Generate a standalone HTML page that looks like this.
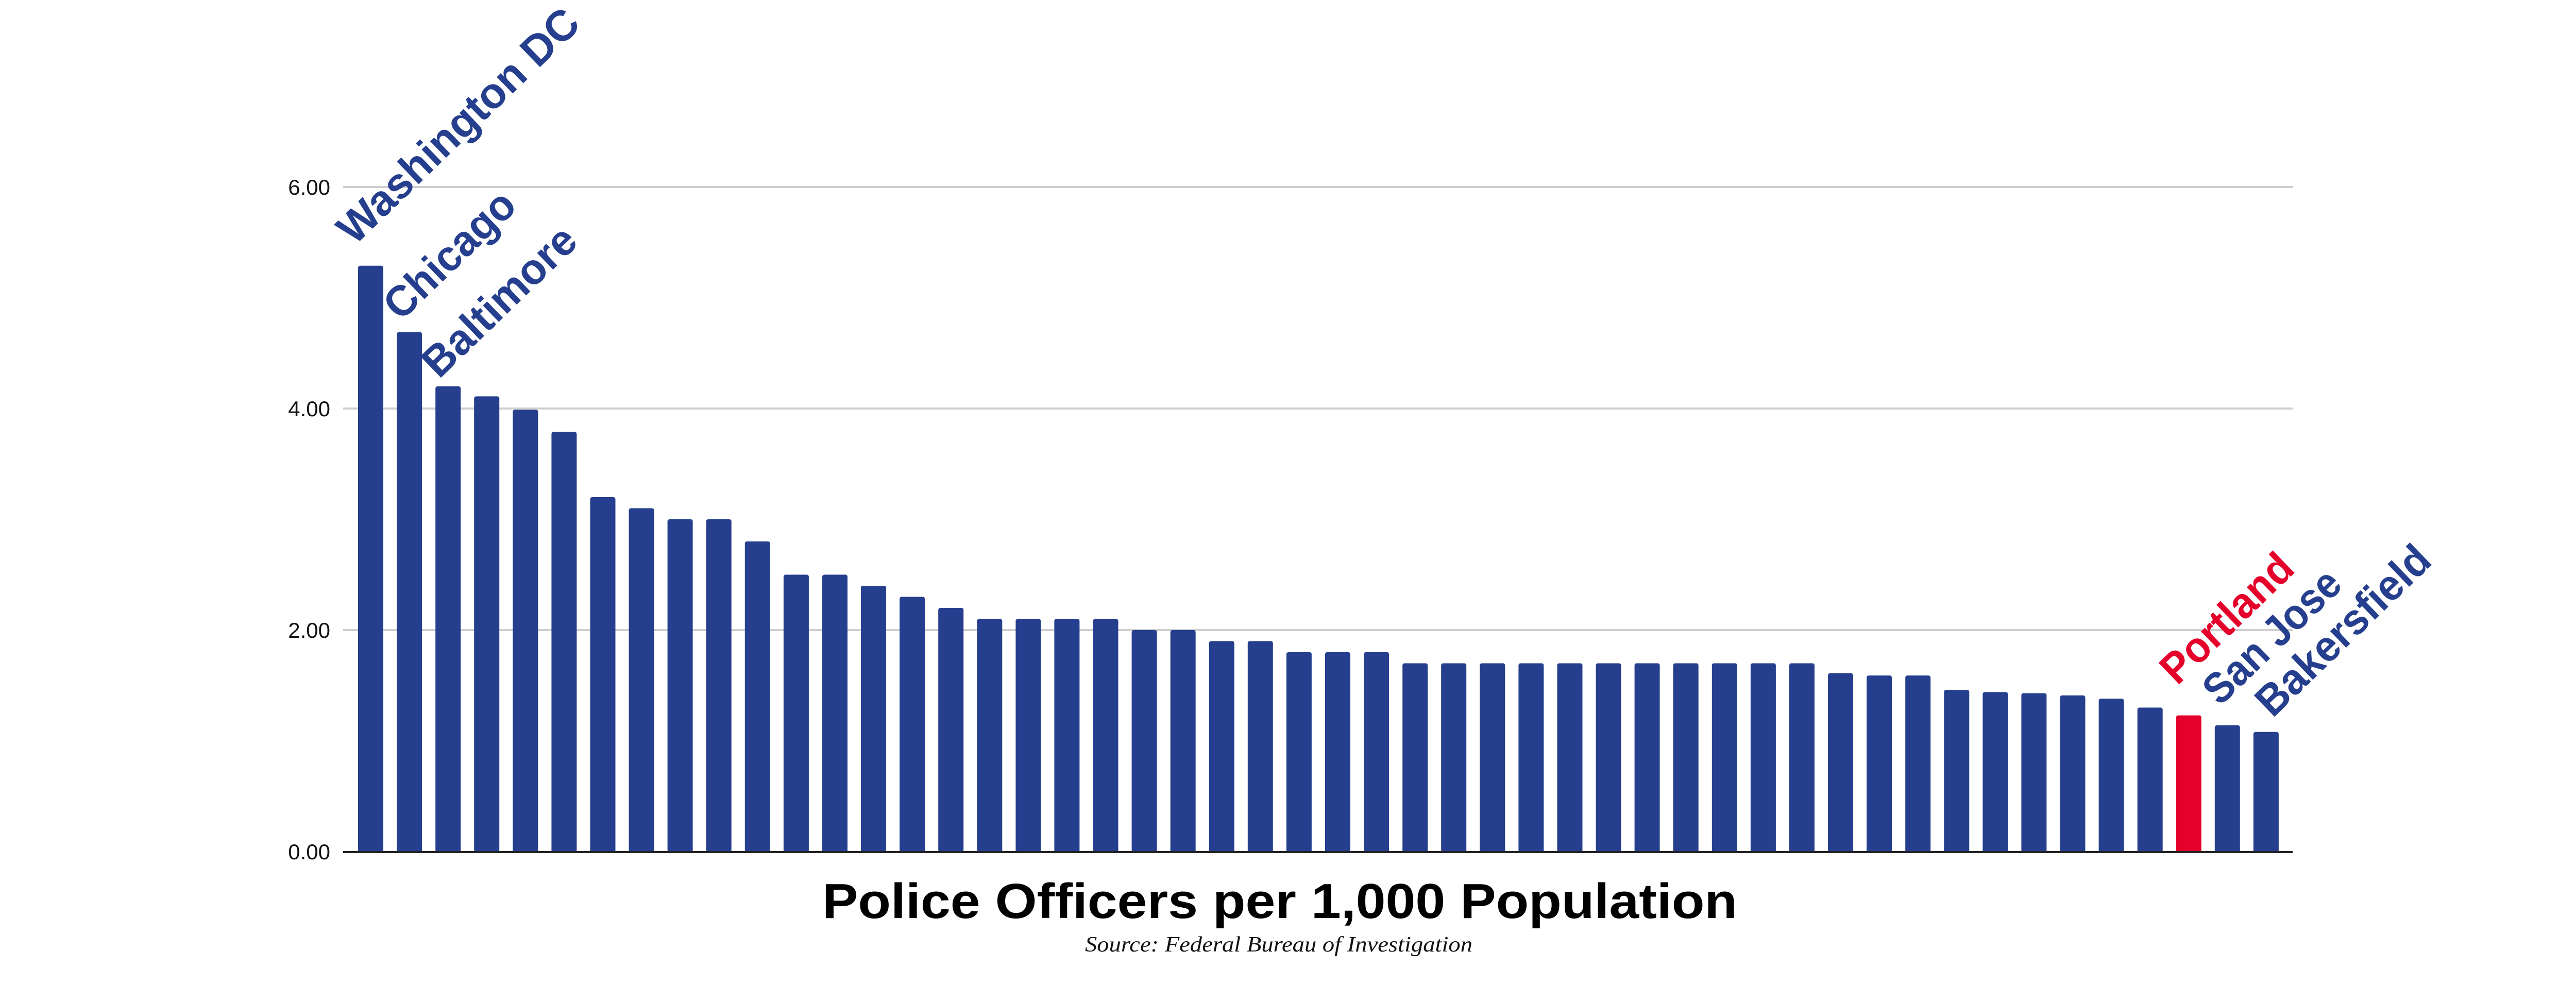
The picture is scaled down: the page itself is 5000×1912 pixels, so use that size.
<!DOCTYPE html>
<html><head><meta charset="utf-8"><style>html,body{margin:0;padding:0;background:#fff;}svg{display:block;}</style></head>
<body>
<svg width="5000" height="1912" viewBox="0 0 5000 1912" xmlns="http://www.w3.org/2000/svg">
<rect width="5000" height="1912" fill="#fff"/>
<g stroke="#cfcfcf" stroke-width="4">
<line x1="666" y1="363" x2="4450" y2="363"/>
<line x1="666" y1="793" x2="4450" y2="793"/>
<line x1="666" y1="1223" x2="4450" y2="1223"/>
</g>
<g font-family="Liberation Sans, sans-serif" font-size="42" fill="#111" text-anchor="end">
<text x="641" y="378">6.00</text>
<text x="641" y="808">4.00</text>
<text x="641" y="1238">2.00</text>
<text x="641" y="1668">0.00</text>
</g>
<g fill="#253f8e">
<rect x="695.0" y="515.7" width="49" height="1140" rx="4"/>
<rect x="770.1" y="644.7" width="49" height="1011" rx="4"/>
<rect x="845.2" y="750.0" width="49" height="906" rx="4"/>
<rect x="920.2" y="769.4" width="49" height="886" rx="4"/>
<rect x="995.3" y="795.2" width="49" height="860" rx="4"/>
<rect x="1070.4" y="838.2" width="49" height="817" rx="4"/>
<rect x="1145.5" y="965.0" width="49" height="690" rx="4"/>
<rect x="1220.6" y="986.5" width="49" height="669" rx="4"/>
<rect x="1295.6" y="1008" width="49" height="647" rx="4"/>
<rect x="1370.7" y="1008" width="49" height="647" rx="4"/>
<rect x="1445.8" y="1051" width="49" height="604" rx="4"/>
<rect x="1520.9" y="1115.5" width="49" height="540" rx="4"/>
<rect x="1596.0" y="1115.5" width="49" height="540" rx="4"/>
<rect x="1671.0" y="1137" width="49" height="518" rx="4"/>
<rect x="1746.1" y="1158.5" width="49" height="497" rx="4"/>
<rect x="1821.2" y="1180" width="49" height="475" rx="4"/>
<rect x="1896.3" y="1201.5" width="49" height="454" rx="4"/>
<rect x="1971.4" y="1201.5" width="49" height="454" rx="4"/>
<rect x="2046.4" y="1201.5" width="49" height="454" rx="4"/>
<rect x="2121.5" y="1201.5" width="49" height="454" rx="4"/>
<rect x="2196.6" y="1223" width="49" height="432" rx="4"/>
<rect x="2271.7" y="1223" width="49" height="432" rx="4"/>
<rect x="2346.8" y="1244.5" width="49" height="411" rx="4"/>
<rect x="2421.8" y="1244.5" width="49" height="411" rx="4"/>
<rect x="2496.9" y="1266" width="49" height="389" rx="4"/>
<rect x="2572.0" y="1266" width="49" height="389" rx="4"/>
<rect x="2647.1" y="1266" width="49" height="389" rx="4"/>
<rect x="2722.2" y="1287.5" width="49" height="368" rx="4"/>
<rect x="2797.2" y="1287.5" width="49" height="368" rx="4"/>
<rect x="2872.3" y="1287.5" width="49" height="368" rx="4"/>
<rect x="2947.4" y="1287.5" width="49" height="368" rx="4"/>
<rect x="3022.5" y="1287.5" width="49" height="368" rx="4"/>
<rect x="3097.6" y="1287.5" width="49" height="368" rx="4"/>
<rect x="3172.6" y="1287.5" width="49" height="368" rx="4"/>
<rect x="3247.7" y="1287.5" width="49" height="368" rx="4"/>
<rect x="3322.8" y="1287.5" width="49" height="368" rx="4"/>
<rect x="3397.9" y="1287.5" width="49" height="368" rx="4"/>
<rect x="3473.0" y="1287.5" width="49" height="368" rx="4"/>
<rect x="3548.0" y="1306.9" width="49" height="348" rx="4"/>
<rect x="3623.1" y="1311.2" width="49" height="344" rx="4"/>
<rect x="3698.2" y="1311.2" width="49" height="344" rx="4"/>
<rect x="3773.3" y="1339.1" width="49" height="316" rx="4"/>
<rect x="3848.4" y="1343.4" width="49" height="312" rx="4"/>
<rect x="3923.4" y="1345.6" width="49" height="310" rx="4"/>
<rect x="3998.5" y="1349.9" width="49" height="305" rx="4"/>
<rect x="4073.6" y="1356.3" width="49" height="299" rx="4"/>
<rect x="4148.7" y="1373.5" width="49" height="282" rx="4"/>
<rect x="4223.8" y="1388.6" width="49" height="267" rx="4" fill="#e4002b"/>
<rect x="4298.8" y="1407.9" width="49" height="248" rx="4"/>
<rect x="4373.9" y="1420.8" width="49" height="235" rx="4"/>
</g>
<line x1="666" y1="1654" x2="4450" y2="1654" stroke="#222" stroke-width="4"/>
<g font-family="Liberation Sans, sans-serif" font-weight="bold" font-size="84" fill="#253f8e" lengthAdjust="spacingAndGlyphs">
<text transform="translate(688,478) rotate(-44)" textLength="615" lengthAdjust="spacingAndGlyphs">Washington DC</text>
<text transform="translate(778,625) rotate(-44)" textLength="318" lengthAdjust="spacingAndGlyphs">Chicago</text>
<text transform="translate(852,737) rotate(-44)" textLength="380" lengthAdjust="spacingAndGlyphs">Baltimore</text>
<text fill="#e4002b" transform="translate(4226,1332) rotate(-44)" textLength="322" lengthAdjust="spacingAndGlyphs">Portland</text>
<text transform="translate(4309,1372) rotate(-44)" textLength="335" lengthAdjust="spacingAndGlyphs">San Jose</text>
<text transform="translate(4411,1395) rotate(-44)" textLength="435" lengthAdjust="spacingAndGlyphs">Bakersfield</text>
</g>
<text x="1596" y="1782" font-family="Liberation Sans, sans-serif" font-weight="bold" font-size="96" fill="#000" textLength="1776" lengthAdjust="spacingAndGlyphs">Police Officers per 1,000 Population</text>
<text x="2106" y="1847" font-family="Liberation Serif, serif" font-style="italic" font-size="42" fill="#111" textLength="752" lengthAdjust="spacingAndGlyphs">Source: Federal Bureau of Investigation</text>
</svg>
</body></html>
